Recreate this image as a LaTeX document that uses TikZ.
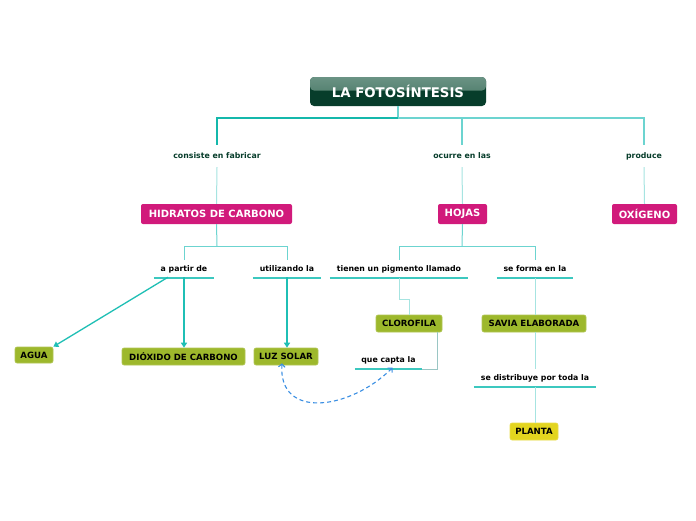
\documentclass[tikz,border=0pt]{standalone}
\usepackage{fontspec}
\setmainfont{DejaVu Sans}
\usetikzlibrary{arrows.meta,calc}
\definecolor{tdark}{HTML}{14B8AB}
\definecolor{tarr}{HTML}{1FBFB5}
\definecolor{tlight}{HTML}{6CD4D0}
\definecolor{tpale}{HTML}{A6E4E1}
\definecolor{tline}{HTML}{3CC8BF}
\definecolor{magent}{HTML}{D11A7B}
\definecolor{olive}{HTML}{9DB82C}
\definecolor{yell}{HTML}{E3D51F}
\definecolor{dgreen}{HTML}{073D2B}
\definecolor{mgtop}{HTML}{6A9384}
\definecolor{mgbot}{HTML}{41705E}
\definecolor{dblue}{HTML}{3B8FE3}
\begin{document}
\begin{tikzpicture}[x=1pt,y=-1pt,
  titlebox/.style={minimum width=176pt,minimum height=29pt,rounded corners=4pt,
    fill=dgreen,text=white,font=\fontsize{13.3}{15}\selectfont\bfseries,inner sep=0pt,
    path picture={\shade[top color=mgtop,bottom color=mgbot]
      (path picture bounding box.north west) rectangle ([yshift=1pt]path picture bounding box.east);}},
  magbox/.style={fill=magent,text=white,rounded corners=2pt,minimum height=20pt,
    inner sep=0pt,font=\fontsize{10}{12}\selectfont\bfseries},
  grbox/.style={fill=olive,draw=olive!80!white,line width=0.6pt,text=black,rounded corners=2pt,minimum height=17pt,
    inner sep=0pt,font=\fontsize{8.6}{10}\selectfont\bfseries},
  toplbl/.style={text=dgreen,minimum height=22pt,inner sep=0pt,font=\fontsize{7.8}{9}\selectfont\bfseries},
  lbl/.style={text=black,minimum height=18pt,minimum width=#1,inner sep=0pt,font=\fontsize{7.8}{9}\selectfont\bfseries},
  ul/.style={draw=tline,line width=2pt},
  thk/.style={line width=2.6pt},
  pale/.style={draw=tpale,line width=1pt},
  br/.style={draw=tlight,line width=1pt},
  arr/.style={draw=tarr,line width=1.3pt,-{Triangle[length=5pt,width=6pt]}},
  dsh/.style={draw=dblue,line width=1.1pt,dash pattern=on 4pt off 3pt,
    {Straight Barb[length=3pt,width=6.5pt]}-{Straight Barb[length=3pt,width=6.5pt]}}
]
\useasboundingbox[fill=white] (0,0) rectangle (696,520);

% title
\node[titlebox] (t) at (398,91.5) {LA FOTOSÍNTESIS};

% top labels
\node[toplbl] (c1) at (217,156) {consiste en fabricar};
\node[toplbl] (c2) at (462,156) {ocurre en las};
\node[toplbl] (c3) at (644,156) {produce};

\coordinate (hub) at (398,118);
\draw[thk,draw=tlight] (t.south) -- (hub);
\draw[thk,draw=tdark] (hub) -| (c1.north);
\draw[thk,draw=tlight] (hub) -| (c2.north);
\draw[thk,draw=tlight] (hub) -| (c3.north);

% magenta boxes
\node[magbox,minimum width=151pt] (hc) at (216.5,214) {HIDRATOS DE CARBONO};
\node[magbox,minimum width=49pt] (ho) at (462.5,214) {HOJAS};
\node[magbox,minimum width=65pt] (ox) at (644.5,214) {OXÍGENO};

\draw[pale] (c1.south) -- (hc.north);
\draw[pale] (c2.south) -- (ho.north);
\draw[pale] (c3.south) -- (ox.north);

% second level labels
\node[lbl=60pt] (ap) at (184,269) {a partir de};
\node[lbl=68pt] (ut) at (287,269) {utilizando la};
\node[lbl=138pt] (tp) at (399,269) {tienen un pigmento llamado};
\node[lbl=76pt] (sf) at (535,269) {se forma en la};
\foreach \n in {ap,ut,tp,sf} \draw[ul] (\n.south west) -- (\n.south east);

\coordinate (h1) at (217,246);
\coordinate (h2) at (462,246);
\draw[br] (hc.south) -- (h1);
\draw[br] (h1) -| (ap.north);
\draw[br] (h1) -| (ut.north);
\draw[br] (ho.south) -- (h2);
\draw[br] (h2) -| (tp.north);
\draw[br] (h2) -| (sf.north);

% green boxes
\node[grbox,minimum width=38pt,minimum height=16pt] (ag) at (34,355) {AGUA};
\node[grbox,minimum width=123pt] (dx) at (183.5,356.5) {DIÓXIDO DE CARBONO};
\node[grbox,minimum width=64pt] (lz) at (286,356.5) {LUZ SOLAR};
\node[grbox,minimum width=66pt] (cl) at (409,323.5) {CLOROFILA};
\node[grbox,minimum width=104pt] (sv) at (534,323.5) {SAVIA ELABORADA};
\node[grbox,minimum width=48pt,fill=yell,draw=yell!80!white] (pl) at (534,431.5) {PLANTA};

\draw[arr] ([xshift=-16pt,yshift=1pt]ap.south) -- (ag.north east);
\draw[arr] ([yshift=1pt]ap.south) -- (dx.north -| ap.south);
\draw[arr] ([yshift=1pt]ut.south) -- (lz.north -| ut.south);

% clorofila branch
\node[lbl=67pt] (qc) at (388.5,360) {que capta la};
\draw[ul] (qc.south west) -- (qc.south east);
\draw[br,draw=tpale] (tp.south) -- ++(0,21) -| (cl.north);
\draw[br,draw=tpale!70!gray] ([xshift=-5pt]cl.south east) |- (qc.south east);

% savia branch
\node[lbl=122pt] (sd) at (535,378) {se distribuye por toda la};
\draw[ul] (sd.south west) -- (sd.south east);
\draw[pale] (sf.south) -- (sv.north -| sf.south);
\draw[pale] (sv.south -| sf.south) -- (sd.north);
\draw[pale] (sd.south) -- (pl.north -| sd.south);

% dashed curve
\draw[dsh] ([xshift=-4pt,yshift=2pt]lz.south) .. controls (278,420) and (350,410) .. ([xshift=4pt,yshift=1.5pt]qc.south);
\end{tikzpicture}
\end{document}
